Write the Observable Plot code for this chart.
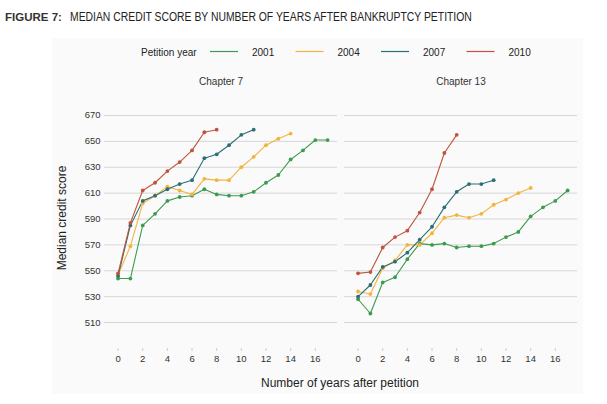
<!DOCTYPE html>
<html>
<head>
<meta charset="utf-8">
<script src="https://cdn.jsdelivr.net/npm/d3@7"></script>
<script src="https://cdn.jsdelivr.net/npm/@observablehq/plot@0.6"></script>
<style>
  html, body { margin: 0; padding: 0; background: #fff; }
  #wrap { position: relative; width: 607px; height: 404px; overflow: hidden; font-family: "Liberation Sans", Arial, sans-serif; color: #222; }
  #bg { position: absolute; left: 52px; top: 38px; width: 531px; height: 356px; background: #fafafa; }
  .abs { position: absolute; white-space: nowrap; }
  #chart { position: absolute; left: 0; top: 65px; }
  #legend { position: absolute; left: 0; top: 40px; }
</style>
</head>
<body>
<div id="wrap">
  <div id="bg"></div>
  <div class="abs" style="left:5px; top:11px; font-size:11.5px; font-weight:bold; color:#333;">FIGURE 7:</div>
  <div class="abs" id="title" style="left:70px; top:10px; font-size:12px; transform:scaleX(0.865); transform-origin:0 50%; color:#222;">MEDIAN CREDIT SCORE BY NUMBER OF YEARS AFTER BANKRUPTCY PETITION</div>
  <div id="legend"></div>
  <div class="abs" style="left:340px; top:376px; transform:translateX(-50%); font-size:12px; color:#222;">Number of years after petition</div>
  <div class="abs" style="left:62px; top:218px; transform:translate(-50%,-50%) rotate(-90deg); font-size:12px; color:#222;">Median credit score</div>
  <div id="chart"></div>
</div>
<script>
// ---- data (values start at year 0) ----
const chapters = ["Chapter 7", "Chapter 13"];
const cohorts = [2001, 2004, 2007, 2010];
const colors = ["#3d9b50", "#f1b53c", "#2b6e74", "#c0533a"];
const xTicks = [0, 2, 4, 6, 8, 10, 12, 14, 16];
const yTicks = [510, 530, 550, 570, 590, 610, 630, 650, 670];

const ch7_2001 = [544, 544, 585, 594, 604, 607, 608, 613, 609, 608, 608, 611, 618, 624, 636, 643, 651, 651];
const ch7_2004 = [547, 569, 602, 608, 615, 612, 609, 621, 620, 620, 630, 638, 647, 652, 656];
const ch7_2007 = [546, 585, 604, 608, 613, 617, 620, 637, 640, 647, 655, 659];
const ch7_2010 = [548, 587, 612, 618, 627, 634, 643, 657, 659];

const ch13_2001 = [528, 517, 541, 545, 559, 571, 570, 571, 568, 569, 569, 571, 576, 580, 592, 599, 604, 612];
const ch13_2004 = [534, 532, 552, 558, 570, 570, 579, 591, 593, 591, 594, 601, 605, 610, 614];
const ch13_2007 = [530, 539, 553, 557, 564, 574, 584, 599, 611, 617, 617, 620];
const ch13_2010 = [548, 549, 568, 576, 581, 595, 613, 641, 655];

const series = [
  ["Chapter 7", 2001, ch7_2001], ["Chapter 7", 2004, ch7_2004],
  ["Chapter 7", 2007, ch7_2007], ["Chapter 7", 2010, ch7_2010],
  ["Chapter 13", 2001, ch13_2001], ["Chapter 13", 2004, ch13_2004],
  ["Chapter 13", 2007, ch13_2007], ["Chapter 13", 2010, ch13_2010]
];
const rows = series.flatMap(([chapter, cohort, vals]) =>
  vals.map((score, year) => ({chapter, cohort, year, score})));

// ---- legend (svg) ----
const ns = "http://www.w3.org/2000/svg";
const lg = document.createElementNS(ns, "svg");
lg.setAttribute("width", 607);
lg.setAttribute("height", 24);
lg.style.fontFamily = "'Liberation Sans', Arial, sans-serif";
lg.style.fontSize = "10px";
let html = `<text x="141" y="15.5" fill="#222">Petition year</text>`;
cohorts.forEach((c, i) => {
  const x0 = 210 + i * 85.5;
  html += `<line x1="${x0}" x2="${x0 + 28}" y1="11.5" y2="11.5" stroke="${colors[i]}" stroke-width="1.2"/>`;
  html += `<text x="${x0 + 42}" y="15.5" fill="#222">${c}</text>`;
});
lg.innerHTML = html;
document.getElementById("legend").appendChild(lg);

// ---- chart ----
const chart = Plot.plot({
  width: 607,
  height: 339,
  marginLeft: 103,
  marginRight: 30,
  marginTop: 37,
  marginBottom: 58,
  style: {fontFamily: "'Liberation Sans', Arial, sans-serif", fontSize: "9.5px", color: "#333", background: "transparent"},
  fx: {domain: chapters, paddingInner: 0.03, paddingOuter: 0, axis: null, label: null},
  x: {domain: [-1.1, 17.8]},
  y: {domain: [491.5, 680]},
  color: {domain: cohorts, range: colors},
  marks: [
    Plot.gridY(yTicks, {stroke: "#d6d6d6", strokeOpacity: 1, strokeWidth: 1}),
    Plot.axisY(yTicks, {tickSize: 0, tickPadding: 4, label: null, fill: "#333"}),
    Plot.axisX(xTicks, {tickSize: 3, tickPadding: 4, label: null, stroke: "#ccc", fill: "#333", dy: 2}),
    Plot.text(chapters, {fx: d => d, text: d => d, frameAnchor: "top", lineAnchor: "middle", dy: -21, fontSize: 10, fill: "#333"}),
    Plot.line(rows, {fx: "chapter", x: "year", y: "score", z: "cohort", stroke: "cohort", strokeWidth: 1.1}),
    Plot.dot(rows, {fx: "chapter", x: "year", y: "score", fill: "cohort", r: 1.9})
  ]
});
document.getElementById("chart").appendChild(chart);
</script>
</body>
</html>
